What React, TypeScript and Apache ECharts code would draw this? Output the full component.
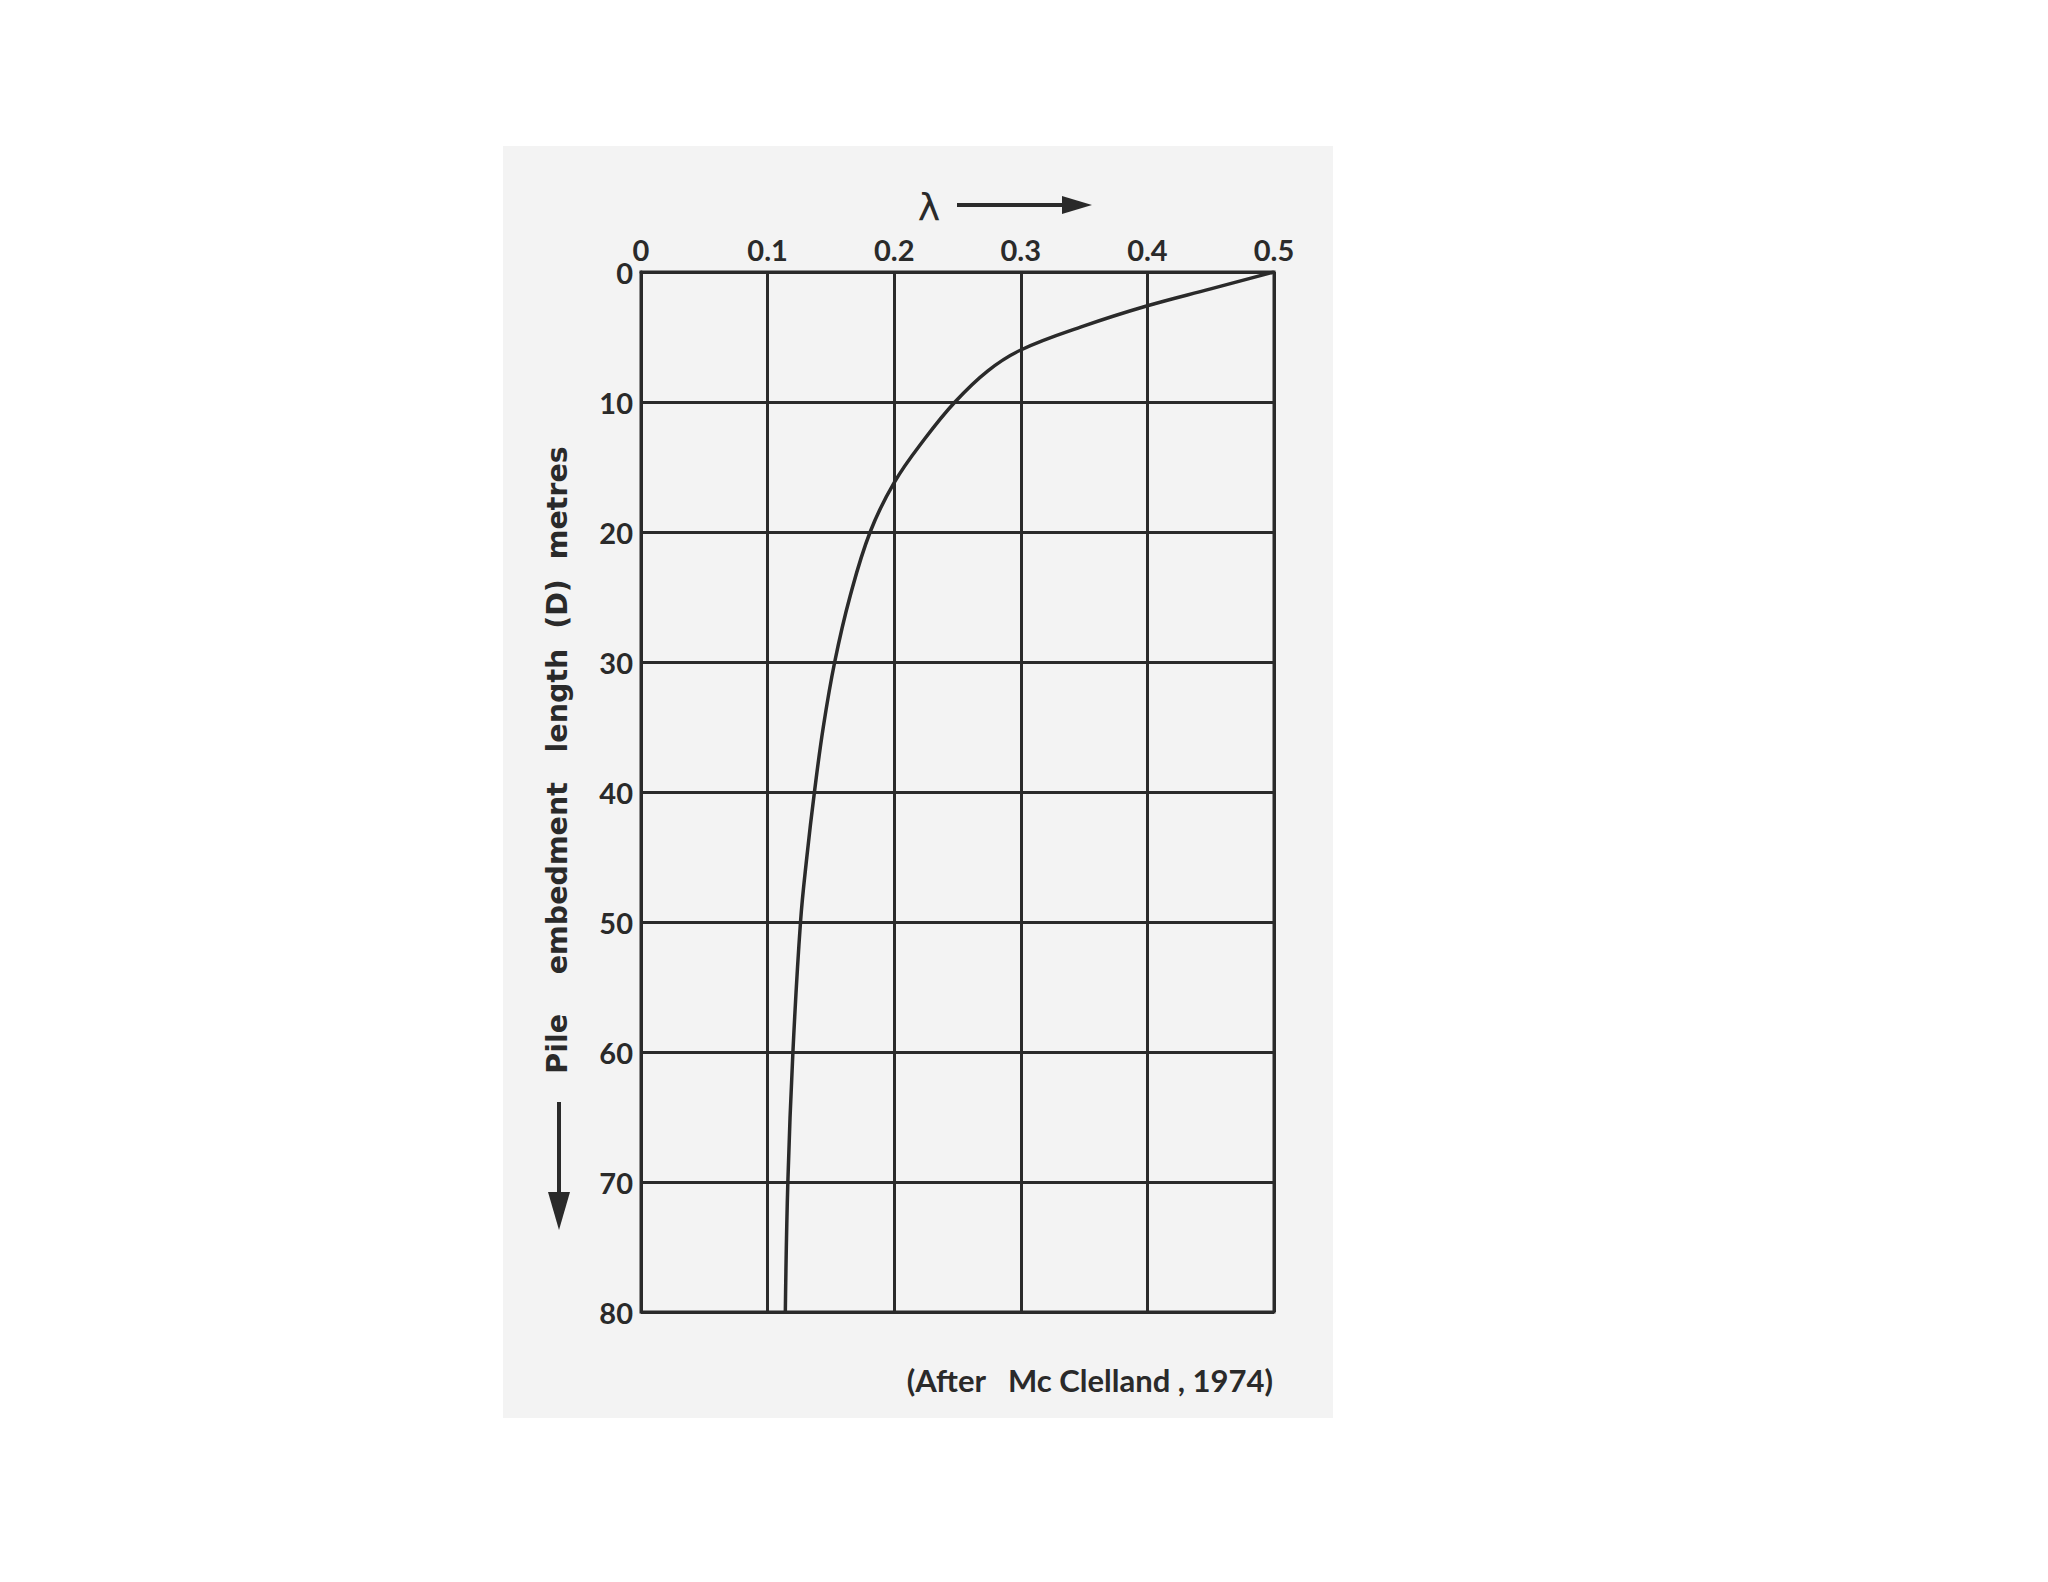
import React, { useEffect, useRef } from "react";
import * as echarts from "echarts";

// λ (x) versus pile embedment length D (y, downward)
const depthValues = [0, 1.3, 2.6, 4.15, 6.0, 7.6, 10, 12.85, 16.2, 20, 25, 30, 35, 40, 45, 50, 60, 70, 80];
const lambdaValues = [0.5, 0.45, 0.4, 0.35, 0.3, 0.274, 0.248, 0.224, 0.2, 0.181, 0.165, 0.153, 0.144, 0.137, 0.131, 0.126, 0.12, 0.116, 0.114];
const xTickLabels = ["0", "0.1", "0.2", "0.3", "0.4", "0.5"];
const yTickLabels = ["0", "10", "20", "30", "40", "50", "60", "70", "80"];

const INK = "#2a2a2a";
const FONT = "Lato, 'Noto Sans', sans-serif";
const WIDE = "'DejaVu Sans', sans-serif";

export default function App() {
  const ref = useRef<HTMLDivElement>(null);
  useEffect(() => {
    if (!ref.current) return;
    const chart = echarts.init(ref.current, null, { renderer: "svg" });
    const data = depthValues.map((d, i) => [lambdaValues[i], d]);
    chart.setOption({
      animation: false,
      backgroundColor: "#ffffff",
      grid: {
        left: 641,
        top: 272,
        right: 2048 - 1274,
        bottom: 1582 - 1312,
        show: true,
        borderColor: INK,
        borderWidth: 3,
        outerBoundsMode: "none",
      },
      xAxis: {
        type: "value",
        position: "top",
        min: 0,
        max: 0.5,
        interval: 0.1,
        axisLine: { show: true, lineStyle: { color: INK, width: 3 } },
        axisTick: { show: false },
        axisLabel: {
          margin: 8,
          color: INK,
          fontFamily: FONT,
          fontWeight: "bold",
          fontSize: 29,
          formatter: (v: number) => xTickLabels[Math.round(v * 10)] ?? "",
        },
        splitLine: { show: true, lineStyle: { color: INK, width: 3 } },
      },
      yAxis: {
        type: "value",
        inverse: true,
        min: 0,
        max: 80,
        interval: 10,
        axisLine: { show: true, lineStyle: { color: INK, width: 3 } },
        axisTick: { show: false },
        axisLabel: {
          margin: 8,
          color: INK,
          fontFamily: FONT,
          fontWeight: "bold",
          fontSize: 29,
          formatter: (v: number) => yTickLabels[Math.round(v / 10)] ?? "",
        },
        splitLine: { show: true, lineStyle: { color: INK, width: 3 } },
      },
      graphic: [
        {
          type: "rect",
          z: -10,
          silent: true,
          shape: { x: 503, y: 146, width: 830, height: 1272 },
          style: { fill: "#f3f3f3" },
        },
        {
          type: "text",
          x: 929,
          y: 207,
          style: {
            text: "λ",
            fill: INK,
            font: `38px ${WIDE}`,
            align: "center",
            verticalAlign: "middle",
          },
        },
        {
          type: "line",
          shape: { x1: 957, y1: 205, x2: 1068, y2: 205 },
          style: { stroke: INK, lineWidth: 4 },
        },
        {
          type: "polygon",
          shape: { points: [[1062, 196], [1092, 205], [1062, 214]] },
          style: { fill: INK },
        },
        {
          type: "text",
          x: 557,
          y: 760,
          rotation: Math.PI / 2,
          style: {
            text: "Pile    embedment   length  (D)  metres",
            fill: INK,
            font: `bold 28.5px ${WIDE}`,
            align: "center",
            verticalAlign: "middle",
          },
        },
        {
          type: "line",
          shape: { x1: 559, y1: 1102, x2: 559, y2: 1200 },
          style: { stroke: INK, lineWidth: 4 },
        },
        {
          type: "polygon",
          shape: { points: [[548, 1192], [570, 1192], [559, 1230]] },
          style: { fill: INK },
        },
        {
          type: "text",
          x: 1273,
          y: 1380,
          style: {
            text: "(After   Mc Clelland , 1974)",
            fill: INK,
            font: `bold 31px ${FONT}`,
            align: "right",
            verticalAlign: "middle",
          },
        },
      ],
      series: [
        {
          type: "line",
          data,
          showSymbol: false,
          smooth: 0.4,
          lineStyle: { color: INK, width: 3.5 },
          z: 5,
        },
      ],
    });
    return () => chart.dispose();
  }, []);
  return (
    <div
      ref={ref}
      style={{ position: "fixed", left: 0, top: 0, width: 2048, height: 1582 }}
    />
  );
}
